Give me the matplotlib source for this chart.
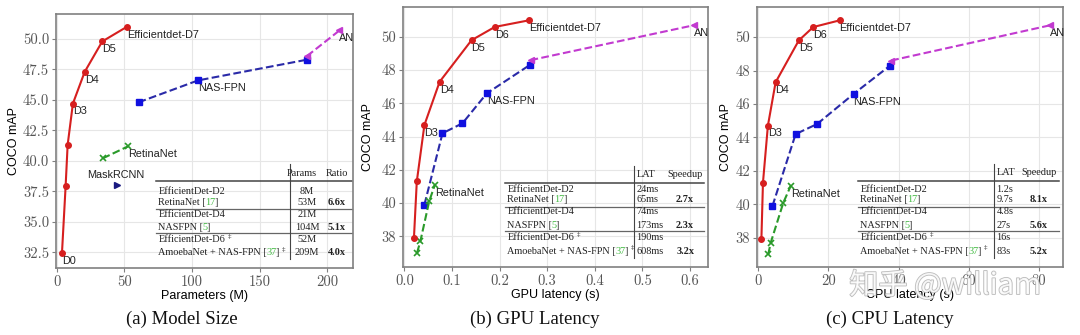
import matplotlib
matplotlib.use("Agg")
import matplotlib.pyplot as plt
import matplotlib.patheffects as pe

# ---- data ----
# (a) model size
eff_params = [3.9, 6.6, 8.1, 12.0, 20.7, 33.7, 51.9]
eff_map_a = [32.4, 37.9, 41.3, 44.7, 47.3, 49.8, 51.0]
eff_names_a = ["D0", "", "", "D3", "D4", "D5", "Efficientdet-D7"]
nas_params = [60.5, 104.5, 185.0]
nas_map_a = [44.8, 46.6, 48.3]
amoeba_params = [185.0, 209.0]
amoeba_map = [48.6, 50.7]
retina_params = [34.0, 53.0]
retina_map_a = [40.2, 41.2]
mask_params = [44.4]
mask_map = [38.0]

# (b) gpu latency, (c) cpu latency
eff_map = [37.9, 41.3, 44.7, 47.3, 49.8, 50.6, 51.0]
eff_names = ["", "", "D3", "D4", "D5", "D6", "Efficientdet-D7"]
eff_gpu = [0.020, 0.026, 0.042, 0.074, 0.141, 0.190, 0.262]
eff_cpu = [0.95, 1.4, 2.8, 5.0, 11.6, 15.7, 23.2]
nas_map = [39.9, 44.2, 44.8, 46.6, 48.3]
nas_gpu = [0.042, 0.080, 0.122, 0.173, 0.263]
nas_cpu = [4.1, 10.7, 16.8, 27.2, 37.6]
amoeba_gpu = [0.265, 0.608]
amoeba_cpu = [37.9, 83.0]
retina_map = [37.0, 37.7, 40.1, 41.1]
retina_gpu = [0.0265, 0.0335, 0.052, 0.064]
retina_cpu = [2.9, 3.6, 7.2, 9.3]

# table rows: (name, citation, double dagger)
tab_names = ["EfficientDet-D2", "RetinaNet", "EfficientDet-D4", "NASFPN",
             "EfficientDet-D6", "AmoebaNet + NAS-FPN"]
tab_refs = ["", "17", "", "5", "", "37"]
tab_dagger = [False, False, False, False, True, True]
tab_params = ["8M", "53M", "21M", "104M", "52M", "209M"]
tab_ratio = ["", "6.6x", "", "5.1x", "", "4.0x"]
tab_gpu = ["24ms", "65ms", "74ms", "173ms", "190ms", "608ms"]
tab_gpu_speed = ["", "2.7x", "", "2.3x", "", "3.2x"]
tab_cpu = ["1.2s", "9.7s", "4.8s", "27s", "16s", "83s"]
tab_cpu_speed = ["", "8.1x", "", "5.6x", "", "5.2x"]

RED = "#d61f1f"
BLUE = "#1010e0"
BLUE_L = "#2a2aa8"
GREEN = "#2a9a2a"
MAG = "#c23ad0"
SANS = "Liberation Sans"
SERIF = "Liberation Serif"
TFS = 7.4

fig = plt.figure(figsize=(10.8, 3.35), dpi=100)
axa = fig.add_axes([56/1080, 1-268/335, 297/1080, 254/335])
axb = fig.add_axes([403/1080, 1-267/335, 305/1080, 260/335])
axc = fig.add_axes([757/1080, 1-267/335, 306/1080, 260/335])


def style(ax):
    ax.grid(True, color="#e6e6e6", lw=0.8)
    ax.set_axisbelow(True)
    for s in ax.spines.values():
        s.set_color("#808080")
        s.set_linewidth(1.2)
    ax.tick_params(length=3, width=0.8, color="#808080", labelcolor="#555555",
                   labelsize=10.5, pad=2)
    for t in ax.get_xticklabels() + ax.get_yticklabels():
        t.set_fontfamily("cmr10")


def label(ax, x, y, s, dx=0, dy=-2, ha="left", va="top"):
    if s:
        ax.annotate(s, (x, y), xytext=(dx, dy), textcoords="offset points",
                    ha=ha, va=va, fontsize=7.8, family=SANS, color="#222222")


def draw_eff(ax, xs, ys, names):
    ax.plot(xs, ys, "-o", color=RED, lw=1.5, ms=4, zorder=5)
    for x, y, n in zip(xs, ys, names):
        label(ax, x, y, n)


def table(ax, x0, x1, xv, ytop, head, col1, col2, c1x, c1ha, c2x):
    tr = ax.transAxes
    rows = [0.300, 0.258, 0.212, 0.158, 0.112, 0.060]
    hl = ytop - 0.031
    kw = dict(transform=tr, fontsize=TFS, family=SERIF, color="#222222", va="center")
    akw = dict(textcoords="offset points", va="center", ha="left",
               fontsize=TFS, family=SERIF)
    ax.text((xv + c1x) / 2 + 0.012 if c1ha == "center" else c1x, ytop, head[0],
            ha=c1ha, **kw)
    ax.text(c2x, ytop, head[1], ha="center", **kw)
    ax.plot([x0, x1], [hl, hl], color="#444444", lw=1.1, transform=tr, clip_on=False)
    for yl in [0.232, 0.137]:
        ax.plot([x0, x1], [yl, yl], color="#666666", lw=0.9, transform=tr, clip_on=False)
    ax.plot([xv, xv], [ytop + 0.035, 0.035], color="#444444", lw=0.8,
            transform=tr, clip_on=False)
    for y, n, r, d, a, b in zip(rows, tab_names, tab_refs, tab_dagger, col1, col2):
        t = ax.text(x0 + 0.008, y, n + (" [" if r else ""), ha="left", **kw)
        if r:
            t = ax.annotate(r, xycoords=t, xy=(1, 0.5), xytext=(-0.6, 0),
                            color="#44bb44", **akw)
            t = ax.annotate("]", xycoords=t, xy=(1, 0.5), xytext=(-0.4, 0),
                            color="#222222", **akw)
        if d:
            ax.annotate("\u2021", xycoords=t, xy=(1, 0.5), xytext=(2, 2.5),
                        textcoords="offset points", va="center", ha="left",
                        fontsize=5, family=SERIF, color="#222222")
        ax.text(c1x, y, a, ha=c1ha, **kw)
        ax.text(c2x, y, b, ha="center", weight="bold", **kw)


# (a) model size
draw_eff(axa, eff_params, eff_map_a, eff_names_a)
axa.plot(nas_params, nas_map_a, "--s", color=BLUE_L, mfc=BLUE, mec=BLUE, lw=1.5, ms=4, zorder=4)
axa.plot(amoeba_params, amoeba_map, "--<", color=MAG, lw=1.5, ms=4, zorder=4)
axa.plot(retina_params, retina_map_a, "--x", color=GREEN, lw=1.5, ms=4, mew=1.2, zorder=4)
axa.plot(mask_params, mask_map, ">", color="#1a1a80", ms=4, zorder=4)
label(axa, nas_params[1], nas_map_a[1], "NAS-FPN")
label(axa, retina_params[1], retina_map_a[1], "RetinaNet")
label(axa, amoeba_params[1], amoeba_map[1], "AN")
label(axa, mask_params[0], mask_map[0], "MaskRCNN", dx=-1, dy=4, ha="center", va="bottom")
axa.set_xlim(-0.5, 219)
axa.set_ylim(31.2, 52.05)
axa.set_xticks([0, 50, 100, 150, 200])
axa.set_yticks([32.5, 35, 37.5, 40, 42.5, 45, 47.5, 50])
axa.set_yticklabels(["32.5", "35.0", "37.5", "40.0", "42.5", "45.0", "47.5", "50.0"])
style(axa)
axa.set_xlabel("Parameters (M)", family=SANS, fontsize=9, labelpad=1)
axa.set_ylabel("COCO mAP", family=SANS, fontsize=9)
axa.yaxis.set_label_coords(-0.12, 0.5)
table(axa, 0.337, 0.997, 0.788, 0.374, ["Params", "Ratio"], tab_params, tab_ratio,
      0.845, "center", 0.945)

# (b) GPU latency
draw_eff(axb, eff_gpu, eff_map, eff_names)
axb.plot(nas_gpu, nas_map, "--s", color=BLUE_L, mfc=BLUE, mec=BLUE, lw=1.5, ms=4, zorder=4)
axb.plot(amoeba_gpu, amoeba_map, "--<", color=MAG, lw=1.5, ms=4, zorder=4)
axb.plot(retina_gpu, retina_map, "--x", color=GREEN, lw=1.5, ms=4, mew=1.2, zorder=4)
label(axb, nas_gpu[3], nas_map[3], "NAS-FPN")
label(axb, retina_gpu[3], retina_map[3], "RetinaNet")
label(axb, amoeba_gpu[1], amoeba_map[1], "AN")
axb.set_xlim(-0.003, 0.638)
axb.set_ylim(36.15, 51.8)
axb.set_xticks([0, 0.1, 0.2, 0.3, 0.4, 0.5, 0.6])
axb.set_xticklabels(["0.0", "0.1", "0.2", "0.3", "0.4", "0.5", "0.6"])
axb.set_yticks([38, 40, 42, 44, 46, 48, 50])
style(axb)
axb.set_xlabel("GPU latency (s)", family=SANS, fontsize=9, labelpad=1)
axb.set_ylabel("COCO mAP", family=SANS, fontsize=9)
axb.yaxis.set_label_coords(-0.095, 0.5)
table(axb, 0.334, 0.987, 0.757, 0.354, ["LAT", "Speedup"], tab_gpu, tab_gpu_speed,
      0.765, "left", 0.925)

# (c) CPU latency
draw_eff(axc, eff_cpu, eff_map, eff_names)
axc.plot(nas_cpu, nas_map, "--s", color=BLUE_L, mfc=BLUE, mec=BLUE, lw=1.5, ms=4, zorder=4)
axc.plot(amoeba_cpu, amoeba_map, "--<", color=MAG, lw=1.5, ms=4, zorder=4)
axc.plot(retina_cpu, retina_map, "--x", color=GREEN, lw=1.5, ms=4, mew=1.2, zorder=4)
label(axc, nas_cpu[3], nas_map[3], "NAS-FPN")
label(axc, retina_cpu[3], retina_map[3], "RetinaNet")
label(axc, amoeba_cpu[1], amoeba_map[1], "AN")
axc.set_xlim(-0.3, 86.8)
axc.set_ylim(36.25, 51.8)
axc.set_xticks([0, 20, 40, 60, 80])
axc.set_yticks([38, 40, 42, 44, 46, 48, 50])
style(axc)
axc.set_xlabel("CPU latency (s)", family=SANS, fontsize=9, labelpad=1)
axc.set_ylabel("COCO mAP", family=SANS, fontsize=9)
axc.yaxis.set_label_coords(-0.082, 0.5)
table(axc, 0.33, 0.987, 0.775, 0.362, ["LAT", "Speedup"], tab_cpu, tab_cpu_speed,
      0.782, "left", 0.92)

# captions
for x, s in [(182, "(a) Model Size"), (535, "(b) GPU Latency"), (890, "(c) CPU Latency")]:
    fig.text(x / 1080, 1 - 319 / 335, s, ha="center", va="center",
             family=SERIF, fontsize=13.5, color="#111111")

# watermark
fig.text(945 / 1080, 1 - 286 / 335, "知乎 @william", ha="center", va="center",
         family=["Noto Sans CJK SC", "DejaVu Sans"], fontsize=21, color="white",
         alpha=0.85, path_effects=[pe.Stroke(linewidth=1.2, foreground="#b0b0b0"), pe.Normal()])

fig.savefig("out.png", dpi=100)
